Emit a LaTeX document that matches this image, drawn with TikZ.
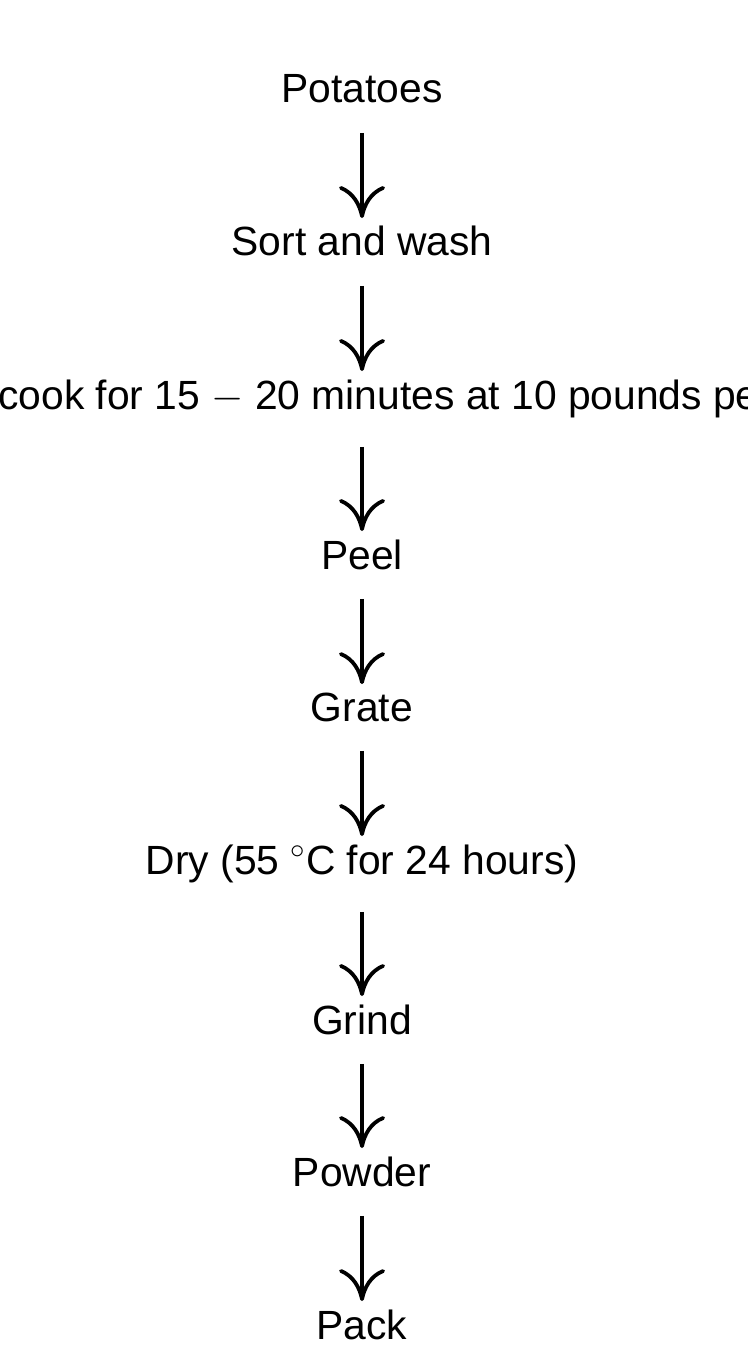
\documentclass[tikz,border=0pt]{standalone}
\usepackage{fontspec}
\setmainfont{Liberation Sans}
\usetikzlibrary{arrows.meta}

\begin{document}
\begin{tikzpicture}[x=0.5pt,y=-0.5pt,>={Computer Modern Rightarrow[length=16pt,width=23pt]},
    stage/.style={inner sep=0pt,anchor=base,font=\fontsize{20.4}{24}\selectfont},
    flow/.style={->,line width=1.9pt,shorten <=14.5pt,shorten >=4pt}]
      \pgfmathsetmacro{\xc}{362}
      \useasboundingbox (0,0) rectangle (748,1358);
      \clip (0,0) rectangle (748,1358);

      \node[stage] (potatoes) at (\xc,103) {Potatoes};
      \node[stage] (sort) at (\xc,256) {Sort and wash};
      % the line runs past both edges of the page
      \node[stage,anchor=base west] (cook) at (-2,409) {cook for 15 $-$ 20 minutes at 10 pounds per square inch};
      \node[stage] (peel) at (\xc,569) {Peel};
      \node[stage] (grate) at (\xc,721) {Grate};
      \node[stage] (dry) at (\xc,874) {Dry (55 $^{\circ}$C for 24 hours)};
      \node[stage] (grind) at (\xc,1034) {Grind};
      \node[stage] (powder) at (\xc,1186) {Powder};
      \node[stage] (pack) at (\xc,1339) {Pack};

      \draw[flow] (potatoes.south) -- (sort.north);
      \draw[flow] (sort.south) -- (cook.north -| sort.north);
      \draw[flow] (cook.south -| peel.north) -- (peel.north);
      \draw[flow] (peel.south) -- (grate.north);
      \draw[flow] (grate.south) -- (dry.north);
      \draw[flow] (dry.south) -- (grind.north);
      \draw[flow] (grind.south) -- (powder.north);
      \draw[flow] (powder.south) -- (pack.north);
    \end{tikzpicture}
\end{document}
